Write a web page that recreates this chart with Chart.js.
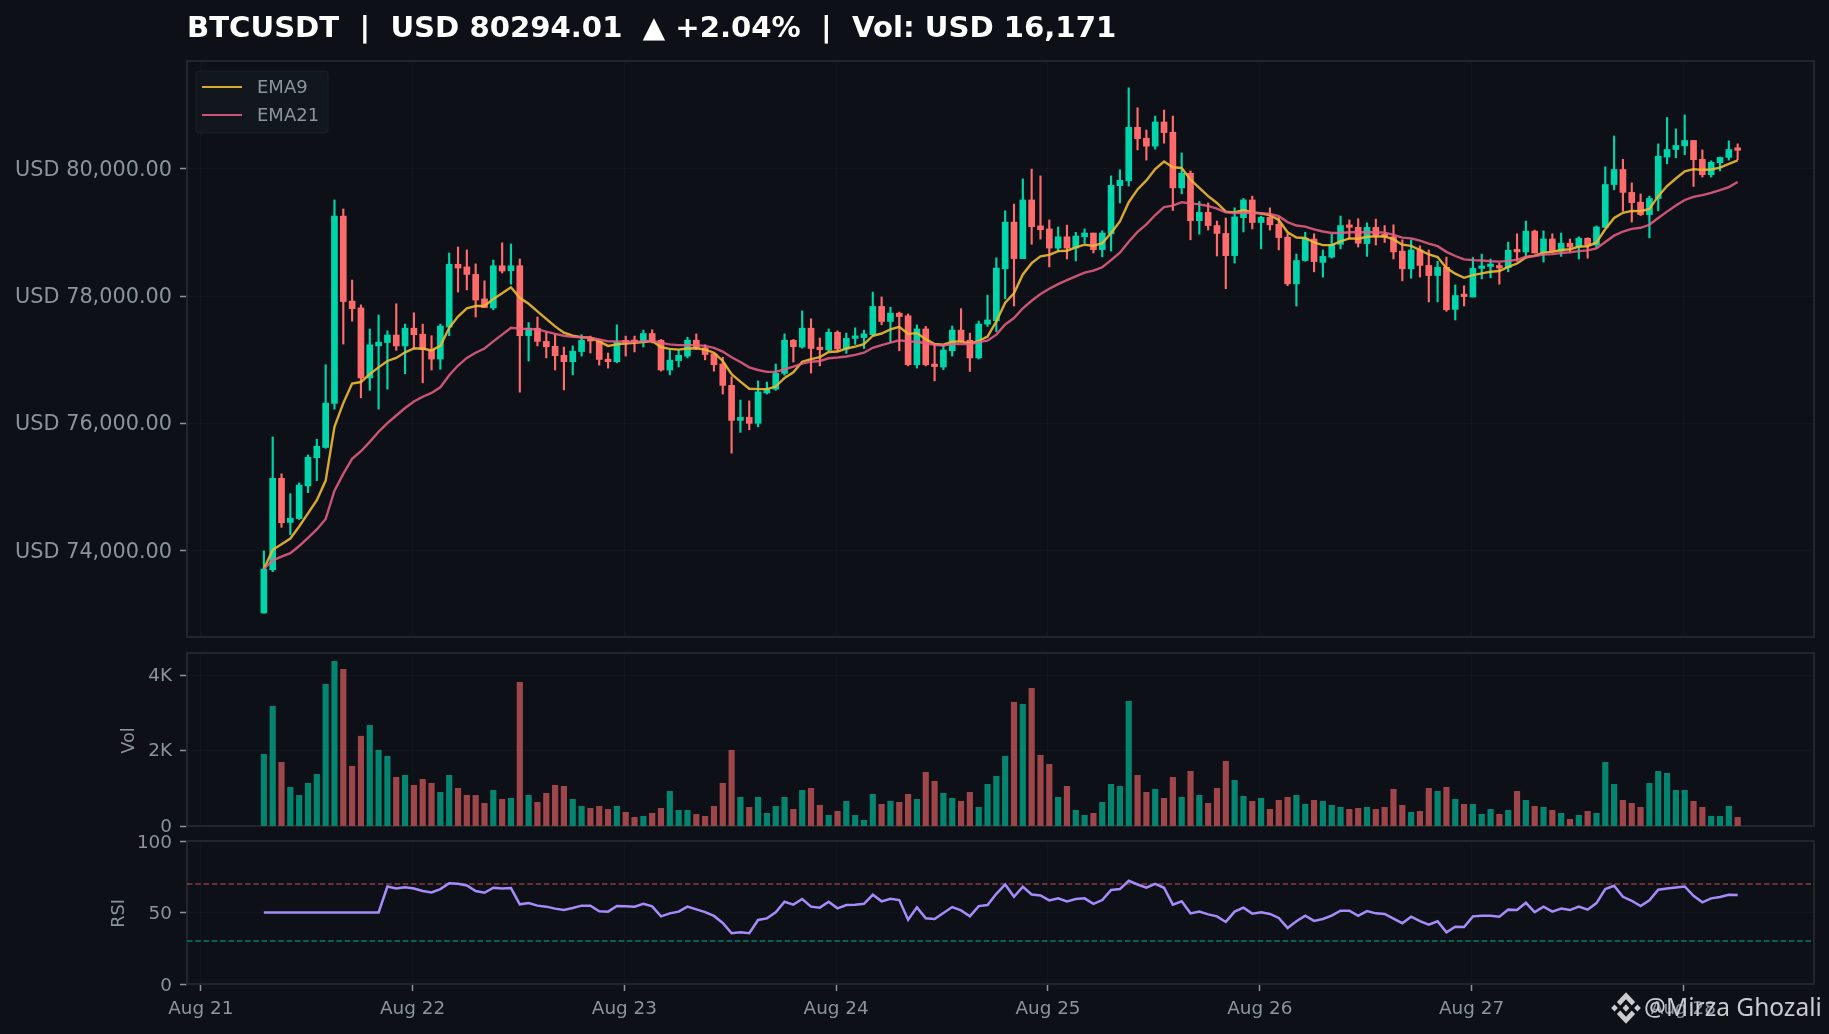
<!DOCTYPE html>
<html>
<head>
<meta charset="utf-8">
<title>BTCUSDT</title>
<script src="https://cdn.jsdelivr.net/npm/chart.js@4/dist/chart.umd.min.js"></script>
<style>
    html, body { margin: 0; padding: 0; background: #0d1117; overflow: hidden; }
    body { width: 1829px; height: 1034px; position: relative; }
    canvas { position: absolute; left: 0; }
    #mainChart { top: 0; }
    #volChart { top: 640px; }
    #rsiChart { top: 825px; }
    #mark { position: absolute; left: 1611px; top: 992px; width: 30px; height: 32px; }
    #markText { position: absolute; left: 1644px; top: 990px; font: 24.5px "Noto Sans", sans-serif; color: #c9cbce; white-space: nowrap; line-height: 34px; }
</style>
</head>
<body>
<canvas id="mainChart" width="1829" height="650"></canvas>
<canvas id="volChart" width="1829" height="200"></canvas>
<canvas id="rsiChart" width="1829" height="209"></canvas>
<svg id="mark" viewBox="0 0 126 126" preserveAspectRatio="none"><path fill="#c9cbce" d="M38.73 53.2L63 28.93l24.28 24.28 14.12-14.12L63 .69 24.61 39.08zM.69 63l14.12-14.12L28.93 63 14.81 77.12zM38.73 72.8L63 97.07l24.28-24.28 14.13 14.11L63 125.31 24.61 86.92zM97.07 63l14.12-14.12L125.31 63l-14.12 14.12zM77.32 63L63 48.67 48.68 63 63 77.33z"/></svg>
<div id="markText">@Mirza Ghozali</div>

<script>
const titleText = "BTCUSDT  |  USD 80294.01  ▲ +2.04%  |  Vol: USD 16,171";
const dayLabels = ["Aug 21", "Aug 22", "Aug 23", "Aug 24", "Aug 25", "Aug 26", "Aug 27", "Aug 28"];
const priceTicks = [74000, 76000, 78000, 80000];
const volTicks = [0, 2000, 4000];
const rsiTicks = [0, 50, 100];
const firstHour = 7.15; // first candle sits just after 07:00 on Aug 21

const opens = [73020, 73700, 75137, 74445, 74504, 75019, 75462, 75622, 76314, 79259,
    77923, 77816, 76716, 77219, 77272, 77390, 77219, 77497, 77402, 77160,
    77012, 77515, 78502, 78461, 78343, 77958, 77816, 78479, 78402, 78479,
    77379, 77497, 77290, 77213, 77071, 76971, 77130, 77314, 77290, 77006,
    76971, 77278, 77278, 77272, 77414, 77308, 76840, 76988, 77059, 77308,
    77189, 77095, 76935, 76598, 76048, 76095, 76001, 76480, 76539, 76787,
    77308, 77201, 77497, 77183, 77154, 77432, 77172, 77337, 77349, 77396,
    77840, 77603, 77733, 77692, 76923, 77485, 76929, 76888, 77142, 77467,
    77308, 77030, 77562, 77615, 78431, 79165, 78591, 79513, 79105, 79058,
    78757, 78934, 78757, 78934, 78993, 78733, 78981, 79738, 79815, 80655,
    80483, 80359, 80738, 80578, 79703, 79933, 79188, 79318, 79111, 78987,
    78638, 79235, 79513, 79159, 79241, 79129, 78928, 78195, 78561, 78899,
    78532, 78615, 78816, 79111, 79082, 78828, 79082, 78958, 78934, 78709,
    78431, 78727, 78484, 78325, 78455, 77793, 78011, 77988, 78437, 78467,
    78473, 78449, 78727, 78697, 79023, 78680, 78899, 78709, 78833, 78774,
    78910, 78804, 79082, 79756, 79992, 79632, 79478, 79283, 79537, 80188,
    80306, 80365, 80448, 80152, 79910, 80099, 80182, 80300];

const closes = [73712, 75137, 74439, 74510, 75031, 75468, 75640, 76320, 79259, 77917,
    77804, 76716, 77237, 77278, 77390, 77219, 77497, 77396, 77160, 77012,
    77532, 78502, 78443, 78343, 77940, 77822, 78479, 78396, 78479, 77379,
    77497, 77290, 77207, 77065, 76971, 77136, 77308, 77296, 77006, 76971,
    77278, 77266, 77272, 77414, 77290, 76840, 76994, 77071, 77308, 77189,
    77083, 76923, 76598, 76048, 76095, 76001, 76497, 76539, 76787, 77308,
    77207, 77497, 77178, 77160, 77432, 77172, 77337, 77355, 77408, 77840,
    77603, 77733, 77680, 76923, 77485, 76923, 76894, 77154, 77467, 77296,
    77030, 77562, 77627, 78443, 79165, 78591, 79513, 79094, 79046, 78757,
    78934, 78757, 78946, 78993, 78733, 78993, 79744, 79821, 80655, 80477,
    80359, 80738, 80572, 79703, 79933, 79188, 79318, 79111, 78987, 78638,
    79247, 79513, 79159, 79241, 79123, 78922, 78195, 78561, 78910, 78544,
    78626, 78816, 79111, 79082, 78833, 79082, 78952, 78934, 78697, 78431,
    78727, 78484, 78325, 78455, 77787, 78011, 77994, 78437, 78473, 78479,
    78443, 78721, 78697, 79023, 78680, 78899, 78709, 78833, 78774, 78910,
    78798, 79088, 79756, 79992, 79632, 79472, 79283, 79537, 80200, 80306,
    80371, 80448, 80146, 79910, 80105, 80182, 80306, 80294.01];

const highs = [73996, 75788, 75208, 74895, 75066, 75504, 75752, 76923, 79513, 79372,
    78254, 77864, 77485, 77704, 77455, 77881, 77562, 77739, 77562, 77379,
    77562, 78680, 78774, 78727, 78508, 78242, 78567, 78839, 78822, 78585,
    77586, 77674, 77438, 77396, 77201, 77219, 77396, 77373, 77308, 77107,
    77550, 77373, 77373, 77467, 77473, 77320, 77160, 77160, 77355, 77408,
    77237, 77101, 77041, 76734, 76367, 76355, 76669, 76651, 76935, 77408,
    77320, 77769, 77645, 77343, 77485, 77455, 77420, 77503, 77467, 78065,
    77988, 77828, 77751, 77722, 77550, 77526, 77237, 77219, 77532, 77804,
    77420, 77609, 78017, 78603, 79342, 79448, 79845, 79998, 79892, 79200,
    79088, 79117, 79005, 79058, 78993, 79028, 79892, 79987, 81276, 80962,
    80613, 80832, 80927, 80832, 80253, 79969, 79490, 79466, 79182, 79230,
    79389, 79537, 79573, 79259, 79389, 79241, 78981, 78662, 79005, 78981,
    78727, 78975, 79259, 79200, 79218, 79153, 79212, 79111, 79123, 78887,
    78887, 78792, 78727, 78550, 78615, 78177, 78165, 78609, 78662, 78585,
    78520, 78851, 78981, 79182, 79040, 79028, 78981, 78993, 78899, 78934,
    78920, 79105, 80034, 80519, 80152, 79780, 79608, 79573, 80395, 80809,
    80631, 80850, 80448, 80300, 80129, 80188, 80442, 80395];

const lows = [73020, 73670, 74368, 74250, 74490, 74912, 75102, 75610, 76225, 77248,
    77609, 76403, 76521, 76225, 76539, 77148, 76781, 77172, 76639, 76840,
    76852, 77379, 78065, 78100, 77674, 77822, 77787, 78366, 78189, 76492,
    76982, 77219, 77030, 76840, 76527, 76764, 77059, 77107, 76917, 76870,
    76953, 77059, 77124, 77201, 77266, 76823, 76764, 76888, 77030, 77160,
    77000, 76823, 76462, 75533, 75859, 75900, 75947, 76462, 76521, 76758,
    76965, 77183, 76793, 76905, 77142, 77142, 77101, 77243, 77178, 77379,
    77550, 77278, 77142, 76905, 76870, 76905, 76669, 76846, 77059, 77278,
    76817, 77012, 77526, 77444, 77958, 77846, 78591, 78816, 78898, 78461,
    78697, 78585, 78555, 78833, 78680, 78620, 78709, 79466, 79732, 80300,
    80140, 80312, 80406, 79348, 79608, 78887, 78975, 79040, 78632, 78118,
    78520, 79011, 79058, 78745, 79040, 78727, 78165, 77846, 78550, 78384,
    78301, 78597, 78745, 78904, 78774, 78626, 78804, 78845, 78585, 78242,
    78283, 78301, 77911, 77911, 77763, 77627, 77846, 77988, 78272, 78289,
    78189, 78384, 78550, 78638, 78680, 78538, 78697, 78626, 78697, 78585,
    78597, 78757, 79082, 79673, 79336, 79165, 79265, 78916, 79342, 80081,
    80176, 80223, 79726, 79874, 79874, 79969, 80140, 80146];

const ema9 = [73712, 74014, 74102, 74191, 74380, 74587, 74794, 75102, 75947, 76320,
    76627, 76651, 76775, 76882, 76982, 77030, 77118, 77178, 77178, 77148,
    77219, 77503, 77680, 77810, 77846, 77846, 77958, 78047, 78141, 77976,
    77881, 77763, 77645, 77526, 77426, 77379, 77355, 77349, 77290, 77219,
    77243, 77254, 77266, 77278, 77296, 77201, 77172, 77160, 77178, 77183,
    77160, 77112, 76982, 76775, 76657, 76545, 76539, 76539, 76580, 76716,
    76805, 76971, 77012, 77041, 77124, 77130, 77178, 77207, 77248, 77379,
    77414, 77479, 77520, 77408, 77420, 77325, 77248, 77237, 77284, 77290,
    77254, 77296, 77367, 77603, 77899, 78047, 78343, 78520, 78626, 78650,
    78709, 78715, 78768, 78810, 78792, 78833, 78993, 79176, 79478, 79679,
    79821, 79998, 80117, 80028, 80016, 79833, 79703, 79573, 79466, 79330,
    79318, 79354, 79318, 79301, 79277, 79200, 79005, 78922, 78916, 78845,
    78804, 78804, 78863, 78910, 78904, 78934, 78940, 78940, 78893, 78810,
    78792, 78727, 78656, 78615, 78443, 78354, 78289, 78331, 78360, 78384,
    78396, 78461, 78514, 78609, 78638, 78685, 78697, 78727, 78739, 78780,
    78786, 78845, 79052, 79230, 79312, 79342, 79336, 79372, 79573, 79732,
    79851, 79963, 79998, 79987, 79993, 80022, 80081, 80134];

const ema21 = [73712, 73848, 73907, 73960, 74073, 74203, 74333, 74498, 74942, 75208,
    75445, 75563, 75711, 75870, 76006, 76125, 76243, 76344, 76420, 76480,
    76568, 76758, 76911, 77030, 77112, 77178, 77290, 77396, 77503, 77491,
    77485, 77479, 77444, 77408, 77379, 77361, 77355, 77349, 77319, 77290,
    77290, 77284, 77284, 77290, 77302, 77266, 77243, 77231, 77231, 77231,
    77219, 77189, 77130, 77041, 76965, 76882, 76840, 76811, 76811, 76852,
    76894, 76941, 76971, 76982, 77024, 77036, 77053, 77077, 77112, 77189,
    77231, 77272, 77308, 77290, 77284, 77260, 77237, 77225, 77248, 77248,
    77248, 77278, 77302, 77396, 77556, 77657, 77810, 77929, 78035, 78118,
    78189, 78254, 78313, 78372, 78402, 78455, 78567, 78685, 78857, 79011,
    79129, 79277, 79401, 79425, 79478, 79460, 79443, 79419, 79377, 79318,
    79306, 79312, 79312, 79306, 79295, 79259, 79165, 79111, 79094, 79052,
    79017, 78993, 78993, 79005, 79005, 79005, 79005, 78999, 78963, 78922,
    78910, 78875, 78828, 78786, 78697, 78632, 78579, 78567, 78561, 78550,
    78544, 78555, 78573, 78620, 78632, 78656, 78662, 78680, 78691, 78709,
    78721, 78751, 78851, 78952, 79017, 79058, 79076, 79123, 79230, 79330,
    79425, 79513, 79561, 79590, 79626, 79667, 79715, 79797];

const volumes = [1903, 3177, 1690, 1027, 814, 1133, 1372, 3761, 4372, 4160,
    1584, 2381, 2673, 2009, 1850, 1292, 1345, 1080, 1239, 1133,
    894, 1345, 1000, 814, 814, 602, 947, 708, 735, 3814,
    814, 628, 867, 1080, 1053, 708, 522, 469, 522, 443,
    522, 363, 230, 257, 336, 469, 920, 416, 416, 310,
    257, 522, 1133, 2009, 761, 496, 761, 336, 522, 761,
    443, 947, 1000, 549, 283, 389, 655, 283, 150, 841,
    575, 655, 628, 841, 708, 1425, 1186, 867, 735, 655,
    894, 496, 1106, 1319, 1850, 3283, 3230, 3655, 1876, 1637,
    761, 1053, 416, 283, 336, 628, 1106, 1053, 3310, 1345,
    894, 974, 735, 1292, 761, 1451, 814, 602, 1000, 1717,
    1212, 788, 655, 735, 443, 681, 761, 814, 575, 681,
    655, 549, 496, 443, 469, 496, 443, 496, 974, 549,
    363, 389, 1000, 920, 1027, 708, 575, 575, 310, 443,
    310, 416, 920, 681, 522, 496, 416, 336, 177, 283,
    389, 336, 1690, 1106, 681, 602, 496, 1133, 1451, 1398,
    947, 947, 655, 496, 257, 257, 522, 230];

const rsi = [50, 50, 50, 50, 50, 50, 50, 50, 50, 50,
    50, 50, 50, 50, 68.2, 66.8, 67.7, 66.8, 65.0, 64.0,
    66.4, 70.5, 70.1, 68.9, 65.0, 63.8, 67.3, 66.8, 67.1, 55.7,
    56.6, 54.8, 54.1, 52.7, 51.7, 53.1, 54.8, 54.8, 50.8, 50.6,
    54.5, 54.3, 54.1, 56.1, 54.3, 47.3, 49.4, 50.6, 54.1, 52.2,
    50.3, 47.6, 42.7, 35.5, 36.2, 35.5, 44.8, 45.9, 50.1, 57.5,
    55.5, 59.4, 54.1, 53.4, 57.5, 52.9, 55.2, 55.5, 56.1, 62.4,
    57.8, 59.6, 58.7, 45.0, 53.6, 45.9, 45.5, 49.7, 53.8, 51.5,
    47.3, 54.5, 55.2, 63.1, 69.6, 61.0, 68.0, 62.6, 61.9, 58.5,
    59.9, 57.8, 59.4, 59.9, 56.1, 58.7, 65.7, 66.4, 72.2, 69.6,
    67.3, 70.1, 67.3, 55.5, 57.8, 49.4, 50.6, 48.7, 47.3, 43.4,
    50.6, 53.4, 49.2, 50.1, 49.0, 46.2, 39.2, 43.9, 47.8, 44.1,
    45.5, 47.8, 51.3, 51.3, 47.6, 51.0, 49.4, 49.0, 45.7, 42.5,
    47.1, 43.9, 41.5, 43.9, 36.2, 40.1, 39.9, 47.3, 47.8, 47.8,
    47.1, 52.0, 51.7, 56.8, 50.3, 54.1, 50.6, 52.7, 51.7, 54.1,
    52.0, 56.6, 66.4, 68.7, 61.0, 58.2, 54.5, 58.5, 65.9, 66.8,
    67.5, 68.2, 61.7, 57.1, 59.9, 60.8, 62.4, 62.2];

const rsiLevels = [70, 30];

const UP = "#00d4aa";
const DOWN = "#ff6b6b";
const GRID = "rgba(255,255,255,0.025)";
const FRAME = "#21262d";
const TICK = "#8b949e";
const X_MIN = -1.56;
const X_MAX = 182.8;

Chart.defaults.font.family = "'DejaVu Sans', sans-serif";
Chart.defaults.color = TICK;
Chart.defaults.animation = false;
Chart.defaults.responsive = false;
Chart.defaults.devicePixelRatio = 1;

const hours = opens.map((_, i) => firstHour + i);
const isUp = opens.map((o, i) => closes[i] >= o);
const candleColors = isUp.map(up => up ? UP : DOWN);
const volColors = isUp.map(up => up ? "rgba(0,212,170,0.6)" : "rgba(255,107,107,0.6)");

function series(values) {
    return values.map((v, i) => ({ x: hours[i], y: v }));
}

// frame all round the panel, chart.js only gives us the left and bottom edge
const panelFrame = {
    id: "panelFrame",
    beforeDatasetsDraw(chart) {
        const a = chart.chartArea;
        const ctx = chart.ctx;
        ctx.save();
        ctx.strokeStyle = FRAME;
        ctx.lineWidth = 2;
        ctx.strokeRect(a.left, a.top, a.right - a.left, a.bottom - a.top);
        ctx.restore();
    }
};

const lineLegend = {
    id: "lineLegend",
    afterDraw(chart) {
        const ctx = chart.ctx;
        const lines = chart.data.datasets.filter(d => d.type === "line");
        ctx.save();
        ctx.fillStyle = "#12171e";
        ctx.strokeStyle = "#1b2027";
        ctx.lineWidth = 1;
        ctx.beginPath();
        ctx.roundRect(196, 71, 132, 62, 3);
        ctx.fill();
        ctx.stroke();
        ctx.font = "18px 'DejaVu Sans'";
        ctx.textBaseline = "middle";
        lines.forEach((d, i) => {
            const y = 87 + i * 28;
            ctx.strokeStyle = d.borderColor;
            ctx.lineWidth = 2;
            ctx.beginPath();
            ctx.moveTo(202, y);
            ctx.lineTo(242, y);
            ctx.stroke();
            ctx.fillStyle = TICK;
            ctx.fillText(d.label, 257, y + 1);
        });
        ctx.restore();
    }
};

function xScale(showLabels) {
    return {
        type: "linear",
        min: X_MIN,
        max: X_MAX,
        offset: false,
        afterFit(s) {
            s.height = showLabels ? 50 : 0;
            s.paddingLeft = 0;
            s.paddingRight = 0;
        },
        border: { display: false },
        grid: { offset: false, color: GRID, drawTicks: showLabels, tickLength: 7, tickColor: TICK, tickWidth: 1.5 },
        ticks: {
            display: showLabels,
            stepSize: 24,
            includeBounds: false,
            autoSkip: false,
            maxRotation: 0,
            padding: 7,
            font: { size: 18.4 },
            callback: v => dayLabels[v / 24]
        }
    };
}

// fixed tick list: stepSize gets ignored when min and max are both set
function yScale(min, max, tickValues, fontSize, labelShift, format) {
    return {
        min: min,
        max: max,
        afterBuildTicks(s) { s.ticks = tickValues.map(v => ({ value: v })); },
        afterFit(s) {
            s.width = 187;
            s.paddingTop = 0;
            s.paddingBottom = 0;
        },
        border: { display: false },
        grid: { color: GRID, tickLength: 7, tickColor: TICK, tickWidth: 1.5 },
        ticks: { padding: 8, labelOffset: labelShift, font: { size: fontSize }, callback: format }
    };
}

new Chart(document.getElementById("mainChart"), {
    type: "bar",
    data: {
        datasets: [
            { type: "line", label: "EMA9", data: series(ema9), borderColor: "rgba(240,185,50,0.9)", borderWidth: 2.4, pointRadius: 0, tension: 0, order: 1 },
            { type: "line", label: "EMA21", data: series(ema21), borderColor: "rgba(236,95,135,0.85)", borderWidth: 2.4, pointRadius: 0, tension: 0, order: 0 },
            { label: "body", data: hours.map((h, i) => ({ x: h, y: [opens[i], closes[i]] })), backgroundColor: candleColors, barThickness: 6, grouped: false, minBarLength: 2.5, order: 2 },
            { label: "wick", data: hours.map((h, i) => ({ x: h, y: [lows[i], highs[i]] })), backgroundColor: candleColors, barThickness: 1.5, grouped: false, order: 3 }
        ]
    },
    options: {
        layout: { padding: { top: 0, right: 15, bottom: 13, left: 0 } },
        plugins: {
            legend: { display: false },
            tooltip: { enabled: false },
            title: {
                display: true,
                text: titleText,
                align: "start",
                fullSize: false,
                color: "#ffffff",
                font: { size: 29.15, weight: "bold" },
                padding: { top: 12, bottom: 14 }
            }
        },
        scales: {
            x: xScale(false),
            y: yScale(72643, 81698, priceTicks, 20.8, 1.5,
                v => "USD " + v.toLocaleString("en-US", { minimumFractionDigits: 2, maximumFractionDigits: 2 }))
        }
    },
    plugins: [panelFrame, lineLegend]
});

new Chart(document.getElementById("volChart"), {
    type: "bar",
    data: {
        datasets: [
            { label: "Vol", data: series(volumes), backgroundColor: volColors, barThickness: 5.5 }
        ]
    },
    options: {
        layout: { padding: { top: 13, right: 15, bottom: 14, left: 0 } },
        plugins: { legend: { display: false }, tooltip: { enabled: false } },
        scales: {
            x: xScale(false),
            y: yScale(0, 4590, volTicks, 18.4, 1, v => v === 0 ? "0" : (v / 1000) + "K")
        }
    },
    plugins: [panelFrame, {
        id: "volLabel",
        afterDraw(chart) { axisName(chart, "Vol", 129); }
    }]
});

new Chart(document.getElementById("rsiChart"), {
    type: "line",
    data: {
        datasets: [
            { label: "RSI", data: series(rsi), borderColor: "#a78bfa", borderWidth: 2.5, pointRadius: 0, tension: 0 },
            { label: "Overbought", data: [{ x: X_MIN, y: rsiLevels[0] }, { x: X_MAX, y: rsiLevels[0] }], borderColor: "rgba(255,107,107,0.5)", borderWidth: 1.5, borderDash: [5.5, 2.8], pointRadius: 0 },
            { label: "Oversold", data: [{ x: X_MIN, y: rsiLevels[1] }, { x: X_MAX, y: rsiLevels[1] }], borderColor: "rgba(0,212,170,0.55)", borderWidth: 1.5, borderDash: [5.5, 2.8], pointRadius: 0 }
        ]
    },
    options: {
        layout: { padding: { top: 16, right: 15, bottom: 0, left: 0 } },
        plugins: { legend: { display: false }, tooltip: { enabled: false } },
        scales: {
            x: xScale(true),
            y: yScale(0, 100, rsiTicks, 18.4, 2, v => String(v))
        }
    },
    plugins: [panelFrame, {
        id: "rsiLabel",
        afterDraw(chart) { axisName(chart, "RSI", 119); }
    }]
});

function axisName(chart, text, x) {
    const a = chart.chartArea;
    const ctx = chart.ctx;
    ctx.save();
    ctx.translate(x, (a.top + a.bottom) / 2 + 1);
    ctx.rotate(-Math.PI / 2);
    ctx.font = "17.7px 'DejaVu Sans'";
    ctx.fillStyle = TICK;
    ctx.textAlign = "center";
    ctx.textBaseline = "middle";
    ctx.fillText(text, 0, 0);
    ctx.restore();
}
</script>
</body>
</html>
